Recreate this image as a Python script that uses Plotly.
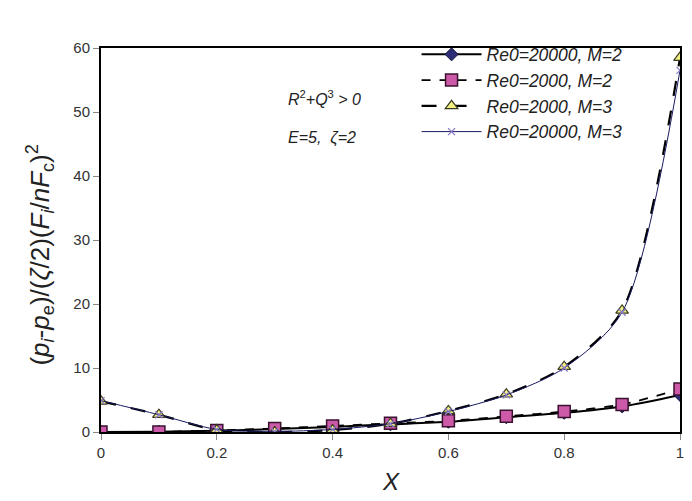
import plotly.graph_objects as go

x_vals = [0, 0.1, 0.2, 0.3, 0.4, 0.5, 0.6, 0.7, 0.8, 0.9, 1.0]
re20000_m2 = [0.0, 0.05, 0.2, 0.45, 0.8, 1.2, 1.6, 2.3, 3.0, 4.0, 5.8]
re2000_m2 = [0.0, 0.0, 0.25, 0.55, 0.95, 1.35, 1.75, 2.45, 3.2, 4.3, 6.7]
re2000_m3 = [4.8, 2.7, 0.3, 0.0, 0.3, 1.3, 3.3, 5.9, 10.2, 19.0, 58.5]
re20000_m3 = [4.9, 2.7, 0.4, 0.1, 0.4, 1.3, 3.2, 5.8, 10.0, 18.7, 56.5]

names = ["Re0=20000, M=2", "Re0=2000, M=2", "Re0=2000, M=3", "Re0=20000, M=3"]
y_title = "(<i>p<sub>i</sub></i>-<i>p</i><sub>e</sub>)/(<i>ζ</i>/2)(<i>F<sub>i</sub></i>/<i>nF</i><sub>c</sub>)<sup>2</sup>"

FONT = "Liberation Sans, Arial, sans-serif"

fig = go.Figure()
fig.add_trace(go.Scatter(
    x=x_vals, y=re20000_m2, name=names[0], mode="lines+markers",
    line=dict(color="black", width=2, shape="spline", smoothing=0.8),
    marker=dict(symbol="diamond", size=10, color="#2e2e78", line=dict(color="#111133", width=1))))
fig.add_trace(go.Scatter(
    x=x_vals, y=re2000_m2, name=names[1], mode="lines+markers",
    line=dict(color="black", width=1.8, dash="dash", shape="spline", smoothing=0.8),
    marker=dict(symbol="square", size=12, color="#cc5aa8", line=dict(color="#3a1230", width=1.5))))
fig.add_trace(go.Scatter(
    x=x_vals, y=re2000_m3, name=names[2], mode="lines+markers",
    line=dict(color="black", width=2.2, dash="longdash", shape="spline", smoothing=0.8),
    marker=dict(symbol="triangle-up", size=11, color="#f2f080", line=dict(color="#3a3a20", width=1.2))))
fig.add_trace(go.Scatter(
    x=x_vals, y=re20000_m3, name=names[3], mode="lines+markers",
    line=dict(color="#1a1a60", width=1, shape="spline", smoothing=0.8),
    marker=dict(symbol="x-thin", size=7, color="#9a8ad0", line=dict(color="#8a7ac8", width=1.3))))

fig.add_annotation(x=0.32, y=0.87, xref="paper", yref="paper", xanchor="left", yanchor="middle",
                   text="<i>R</i><sup>2</sup><i>+Q</i><sup>3</sup><i> &gt; 0</i>", showarrow=False,
                   font=dict(family=FONT, size=16, color="#222"))
fig.add_annotation(x=0.32, y=0.765, xref="paper", yref="paper", xanchor="left", yanchor="middle",
                   text="<i>E=5,  ζ=2</i>", showarrow=False,
                   font=dict(family=FONT, size=16, color="#222"))
# y-axis title as rotated annotation for precise placement
fig.add_annotation(x=-0.105, y=0.46, xref="paper", yref="paper", xanchor="center", yanchor="middle",
                   text=y_title, textangle=-90, showarrow=False,
                   font=dict(family=FONT, size=26, color="#222"))
# x-axis title
fig.add_annotation(x=0.5, y=-0.128, xref="paper", yref="paper", xanchor="center", yanchor="middle",
                   text="<i>X</i>", showarrow=False,
                   font=dict(family=FONT, size=24, color="#222"))

fig.update_layout(
    width=692, height=501,
    margin=dict(l=101, r=12, t=48, b=69),
    paper_bgcolor="white", plot_bgcolor="white",
    font=dict(family=FONT, size=15, color="#333"),
    showlegend=True,
    legend=dict(x=0.545, y=1.03, xanchor="left", yanchor="top",
                bgcolor="rgba(255,255,255,0)", itemwidth=60,
                font=dict(family=FONT, size=17.5, color="#222", style="italic"),
                tracegroupgap=0, itemsizing="trace"),
    xaxis=dict(range=[0, 1], tickvals=[0, 0.2, 0.4, 0.6, 0.8, 1.0],
               ticktext=["0", "0.2", "0.4", "0.6", "0.8", "1"], automargin=False,
               showgrid=False, zeroline=False, showline=True, linecolor="black", linewidth=2,
               mirror=True, ticks="outside", ticklen=6, tickcolor="#888",
               tickfont=dict(size=15, color="#333")),
    yaxis=dict(range=[0, 60], tickvals=[0, 10, 20, 30, 40, 50, 60], automargin=False,
               showgrid=False, zeroline=False, showline=True, linecolor="black", linewidth=2,
               mirror=True, ticks="outside", ticklen=6, tickcolor="#888",
               tickfont=dict(size=15, color="#333")),
)

fig.write_html("out.html")
